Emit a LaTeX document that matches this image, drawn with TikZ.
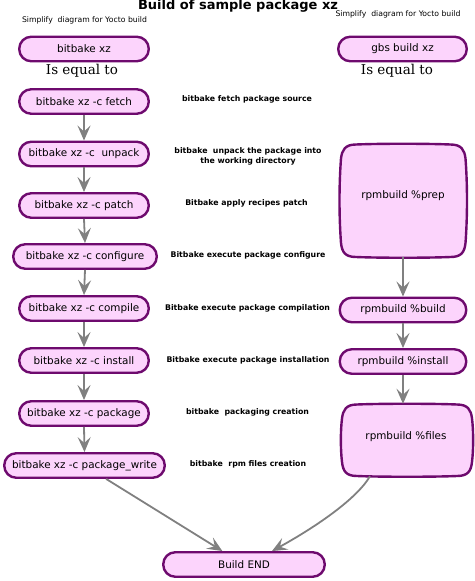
\documentclass[tikz,border=0pt]{standalone}
\usepackage{fontspec}
\setmainfont{DejaVu Sans}
\newfontfamily\serifd{DejaVu Serif}
\usetikzlibrary{arrows.meta,calc}
\definecolor{boxc}{RGB}{110,10,110}
\definecolor{boxf}{RGB}{252,212,252}
\definecolor{arrc}{RGB}{128,128,128}
\tikzset{
  box/.style={draw=boxc,fill=boxf,line width=2.4pt,rounded corners=12pt,minimum height=24.5pt,inner sep=0pt,font=\fontsize{10.4}{12}\selectfont},
  ghost/.style={inner sep=0pt,font=\fontsize{10.4}{12}\selectfont},
  bulge/.style={draw=boxc,fill=boxf,line width=2.4pt},
  desc/.style={font=\bfseries\fontsize{7.8}{10}\selectfont,align=center,inner sep=0pt},
  note/.style={font=\fontsize{7.7}{9}\selectfont,inner sep=0pt},
  eq/.style={font=\serifd\fontsize{13.5}{15}\selectfont,inner sep=0pt},
  arr/.style={draw=arrc,line width=1.8pt,-{Stealth[length=15pt,width=13pt,inset=6pt]}},
}
\begin{document}
\begin{tikzpicture}[x=1pt,y=-1pt]
\useasboundingbox (0,0) rectangle (474,581);
% title and notes
\node[font=\bfseries\fontsize{13}{15}\selectfont,anchor=base,inner sep=0pt] (title) at (238,9.5) {Build of sample package xz};
\node[note] (noteL) at (84.5,20) {Simplify\ \ diagram for Yocto build};
\node[note] (noteR) at (398,14) {Simplify\ \ diagram for Yocto build};
\node[eq] (eqL) at (82,71) {Is equal to};
\node[eq] (eqR) at (397,71) {Is equal to};
% left column
\node[box,minimum width=129.5pt] (bb) at (84,49) {bitbake xz};
\node[box,minimum width=129.5pt] (fetch) at (84,101.5) {bitbake xz -c fetch};
\node[box,minimum width=129.5pt] (unpack) at (84,154) {bitbake xz -c\ \ unpack};
\node[box,minimum width=129.5pt] (patch) at (84,205.5) {bitbake xz -c patch};
\node[box,minimum width=143.5pt] (conf) at (85,256.5) {bitbake xz -c configure};
\node[box,minimum width=129.5pt] (comp) at (84,308.5) {bitbake xz -c compile};
\node[box,minimum width=129.5pt] (inst) at (84,360.5) {bitbake xz -c install};
\node[box,minimum width=129.5pt] (pack) at (84,413.5) {bitbake xz -c package};
\node[box,minimum width=160.5pt] (write) at (84.5,465.5) {bitbake xz -c package\_write};
\node[box,minimum width=161.5pt] (end) at (244,564.5) {Build END};
% descriptions
\node[desc] (d1) at (247,99) {bitbake fetch package source};
\node[desc] (d2) at (248,156) {bitbake\ \ unpack the package into\\the working directory};
\node[desc] (d3) at (246.5,203) {Bitbake apply recipes patch};
\node[desc] (d4) at (248,255) {Bitbake execute package configure};
\node[desc] (d5) at (247.5,308) {Bitbake execute package compilation};
\node[desc] (d6) at (248,360) {Bitbake execute package installation};
\node[desc] (d7) at (247.5,412) {bitbake\ \ packaging creation};
\node[desc] (d8) at (248,464) {bitbake\ \ rpm files creation};
% right column
\node[box,minimum width=128.5pt] (gbs) at (402.5,49) {gbs build xz};
\draw[bulge] (356,144.5) .. controls (380,143.5) and (426,143.5) .. (450.5,144.5)
  .. controls (461.5,144.5) and (464.5,150) .. (465.5,158.5)
  .. controls (467.5,185) and (467.5,216) .. (465.5,243)
  .. controls (464.5,252) and (461.5,257) .. (450.5,257)
  .. controls (426,258) and (380,258) .. (356,257)
  .. controls (345,257) and (342,252) .. (341,243)
  .. controls (339,216) and (339,185) .. (341,158.5)
  .. controls (342,150) and (345,144.5) .. (356,144.5) -- cycle;
\node[ghost,minimum width=124pt,minimum height=112pt] (prep) at (403,200.5) {};
\node[ghost] (prept) at (403,196) {rpmbuild \%prep};
\node[box,minimum width=126.5pt] (rbuild) at (403,310) {rpmbuild \%build};
\node[box,minimum width=126.5pt] (rinst) at (403,361.5) {rpmbuild \%install};
\draw[bulge] (357,404.5) .. controls (380,403.5) and (434,403.5) .. (457,404.5)
  .. controls (468,404.5) and (471,410) .. (472,418.5)
  .. controls (473.5,430) and (473.5,450) .. (472,462)
  .. controls (471,471) and (468,476) .. (457,476)
  .. controls (434,477) and (380,477) .. (357,476)
  .. controls (346,476) and (343,471) .. (342,462)
  .. controls (340.5,450) and (340.5,430) .. (342,418.5)
  .. controls (343,410) and (346,404.5) .. (357,404.5) -- cycle;
\node[ghost,minimum width=130pt,minimum height=72pt] (files) at (407,440) {};
\node[ghost] (filest) at (406,437) {rpmbuild \%files};
% arrows left
\draw[arr] (fetch.south) -- (unpack.north);
\draw[arr] (unpack.south) -- (patch.north);
\draw[arr] (patch.south) -- (conf.north);
\draw[arr] (conf.south) -- (comp.north);
\draw[arr] (comp.south) -- (inst.north);
\draw[arr] (inst.south) -- (pack.north);
\draw[arr] (pack.south) -- (write.north);
\draw[arr] (write) -- (end);
% arrows right
\draw[arr] (prep.south) -- (rbuild.north);
\draw[arr] (rbuild.south) -- (rinst.north);
\draw[arr] (rinst.south) -- (rinst.south |- files.north);
\draw[arr] ([xshift=-37pt]files.south) .. controls +(-14,24) and +(40,-22) .. ([xshift=28pt]end.north);
\end{tikzpicture}
\end{document}
